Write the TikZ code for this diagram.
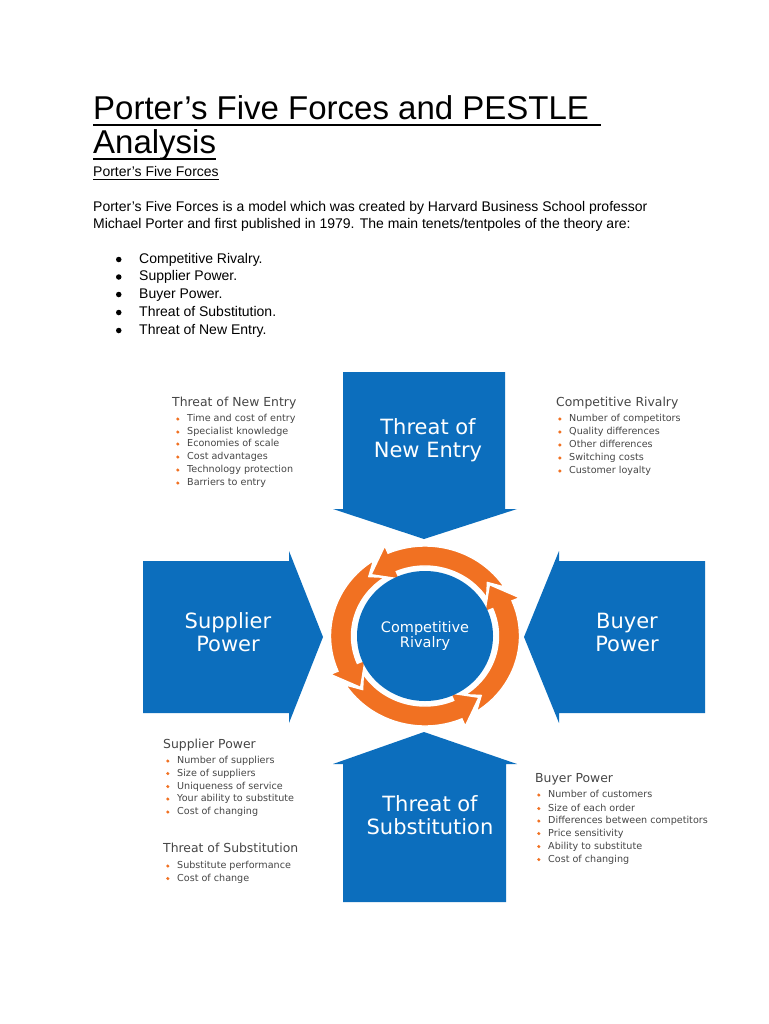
\documentclass[tikz,border=0pt]{standalone}
\usepackage{fontspec}
\setmainfont{Liberation Sans}
\newfontfamily\dejavu{DejaVu Sans}
\usepackage{tikz}
\usetikzlibrary{positioning,shapes.geometric}
\definecolor{forceblue}{RGB}{12,110,189}
\definecolor{ringorange}{RGB}{241,113,34}
\definecolor{listgray}{RGB}{70,70,70}

\begin{document}
\begin{tikzpicture}[
    x=1pt, y=-1pt,
    title/.style={anchor=base west, inner sep=0, font=\fontsize{33}{40}\selectfont},
    body/.style={anchor=base west, inner sep=0, font=\fontsize{14}{17}\selectfont},
    point/.style={body, text height=10pt, text depth=3pt, label={[bigdot, xshift=-17.3pt]left:{}}},
    bigdot/.style={circle, fill=black, inner sep=0, minimum size=5.5pt},
    force/.style={fill=forceblue},
    forcename/.style={text=white, align=center, font=\dejavu\fontsize{21}{23}\selectfont},
    listhead/.style={anchor=base west, inner sep=0, text=listgray, font=\dejavu\fontsize{12.4}{14}\selectfont},
    listitem/.style={anchor=base west, inner sep=0, text=listgray, text height=7pt, text depth=2pt, font=\dejavu\fontsize{9.6}{11}\selectfont, label={[smalldot, xshift=-7.3pt]left:{}}},
    smalldot/.style={circle, fill=ringorange, inner sep=0, minimum size=3.4pt},
    ringarrow/.style={fill=ringorange, draw=white, line width=1.4pt, line join=miter}
]
\fill[white] (0,0) rectangle (768,1024);
\useasboundingbox (0,0) rectangle (768,1024);

% Heading and text
\node[title] (title1) at (93,120) {Porter’s Five Forces and PESTLE};
\node[title] (title2) at (93,154) {Analysis};
\node[body] (subtitle) at (93,177) {Porter’s Five Forces};
\draw[line width=2pt] ([yshift=-5pt]title1.base west) -- ([xshift=12pt, yshift=-5pt]title1.base east);
\draw[line width=2pt] ([yshift=-5pt]title2.base west) -- ([yshift=-5pt]title2.base east);
\draw[line width=0.9pt] ([yshift=-2pt]subtitle.base west) -- ([yshift=-2pt]subtitle.base east);
\node[body] (para1) at (93,212) {Porter’s Five Forces is a model which was created by Harvard Business School professor};
\node[body] (para2) at (93,229) {Michael Porter and first published in 1979. The main tenets/tentpoles of the theory are:};
\node[point] (p1) at (139,263) {Competitive Rivalry.};
\node[point] (p2) at (139,280.5) {Supplier Power.};
\node[point] (p3) at (139,298) {Buyer Power.};
\node[point] (p4) at (139,316) {Threat of Substitution.};
\node[point] (p5) at (139,334) {Threat of New Entry.};

% Forces
\fill[force] (343,372) -- (505,372) -- (505,509) -- (517,509) -- (424,539) -- (333,509) -- (343,509) -- cycle;
\fill[force] (143,561) -- (289,561) -- (289,551) -- (323,637) -- (289,723) -- (289,713) -- (143,713) -- cycle;
\fill[force] (705,561) -- (559,561) -- (559,551) -- (524,637) -- (559,723) -- (559,713) -- (705,713) -- cycle;
\fill[force] (424,732) -- (517,764) -- (506,764) -- (506,902) -- (343,902) -- (343,764) -- (333,764) -- cycle;
\node[forcename] (entry) at (428,440) {Threat of\\New Entry};
\node[forcename] (supplier) at (228,632) {Supplier\\Power};
\node[forcename] (buyer) at (627,632) {Buyer\\Power};
\node[forcename] (substitution) at (430,815) {Threat of\\Substitution};

% Rivalry ring
\begin{scope}[shift={(425,636)}, xscale=1.05]
\path[ringarrow] (-57:90pt) -- (-48:80pt) -- (-57:70pt) arc[start angle=-57, end angle=23, radius=70pt] -- (23:62pt) -- (40:80pt) -- (23:98pt) -- (23:90pt) arc[start angle=23, end angle=-57, radius=90pt] -- cycle;
\path[ringarrow] (33:90pt) -- (42:80pt) -- (33:70pt) arc[start angle=33, end angle=113, radius=70pt] -- (113:62pt) -- (130:80pt) -- (113:98pt) -- (113:90pt) arc[start angle=113, end angle=33, radius=90pt] -- cycle;
\path[ringarrow] (123:90pt) -- (132:80pt) -- (123:70pt) arc[start angle=123, end angle=203, radius=70pt] -- (203:62pt) -- (220:80pt) -- (203:98pt) -- (203:90pt) arc[start angle=203, end angle=123, radius=90pt] -- cycle;
\path[ringarrow] (213:90pt) -- (222:80pt) -- (213:70pt) arc[start angle=213, end angle=293, radius=70pt] -- (293:62pt) -- (310:80pt) -- (293:98pt) -- (293:90pt) arc[start angle=293, end angle=213, radius=90pt] -- cycle;
\end{scope}
\node[ellipse, fill=forceblue, minimum width=136pt, minimum height=130pt, inner sep=0, text=white, align=center, font=\dejavu\fontsize{14.5}{14.5}\selectfont] (rivalry) at (425,636) {Competitive\\Rivalry};

% Lists
\node[listhead] (entryhead) at (172,406.5) {Threat of New Entry};
\node[listitem] (e1) at (187,421.5) {Time and cost of entry};
\node[listitem] (e2) at (187,434.5) {Specialist knowledge};
\node[listitem] (e3) at (187,446.5) {Economies of scale};
\node[listitem] (e4) at (187,459.5) {Cost advantages};
\node[listitem] (e5) at (187,472.5) {Technology protection};
\node[listitem] (e6) at (187,485.5) {Barriers to entry};

\node[listhead] (rivalryhead) at (556,406.5) {Competitive Rivalry};
\node[listitem] (r1) at (569,421.5) {Number of competitors};
\node[listitem] (r2) at (569,434.5) {Quality differences};
\node[listitem] (r3) at (569,447.5) {Other differences};
\node[listitem] (r4) at (569,460.5) {Switching costs};
\node[listitem] (r5) at (569,473.5) {Customer loyalty};

\node[listhead] (supplierhead) at (163,748.5) {Supplier Power};
\node[listitem] (s1) at (177,763.5) {Number of suppliers};
\node[listitem] (s2) at (177,776) {Size of suppliers};
\node[listitem] (s3) at (177,789) {Uniqueness of service};
\node[listitem] (s4) at (177,801.5) {Your ability to substitute};
\node[listitem] (s5) at (177,814.5) {Cost of changing};

\node[listhead] (substhead) at (163,852.5) {Threat of Substitution};
\node[listitem] (t1) at (177,868.5) {Substitute performance};
\node[listitem] (t2) at (177,881) {Cost of change};

\node[listhead] (buyerhead) at (535,782.5) {Buyer Power};
\node[listitem] (b1) at (548,797.5) {Number of customers};
\node[listitem] (b2) at (548,811) {Size of each order};
\node[listitem] (b3) at (548,823.5) {Differences between competitors};
\node[listitem] (b4) at (548,836) {Price sensitivity};
\node[listitem] (b5) at (548,849) {Ability to substitute};
\node[listitem] (b6) at (548,862) {Cost of changing};

\end{tikzpicture}
\end{document}
